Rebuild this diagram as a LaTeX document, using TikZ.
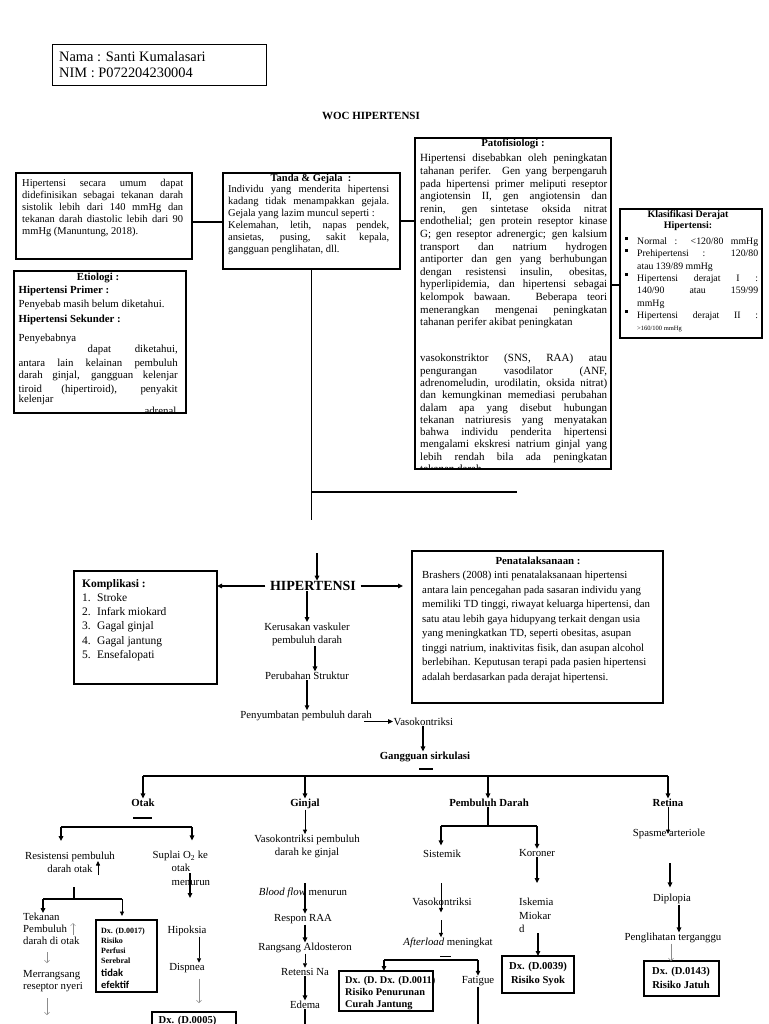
\documentclass[tikz,border=0pt]{standalone}
\usepackage{fontspec}
\setmainfont{Liberation Serif}
\newfontfamily\cali{Carlito}
\usetikzlibrary{arrows.meta}
\newcommand{\fz}[2]{\fontsize{#1}{#2}\selectfont}
\newcommand{\J}[2]{\makebox[#1][s]{#2}}
\tikzset{
  box/.style={draw, line width=1.3pt, anchor=north west, inner sep=0pt, outer sep=0pt},
  txt/.style={inner sep=0pt, align=left, anchor=north west},
  lbl/.style={inner sep=0.5pt, font=\fz{10.8}{13}},
  bl/.style={inner sep=0.5pt, font=\bfseries\fz{10.8}{13}},
  ar/.style={line width=1.3pt, -{Triangle[length=5pt,width=4.5pt]}},
  tar/.style={line width=0.8pt, -{Triangle[length=4.5pt,width=4pt]}},
  gar/.style={line width=0.5pt, draw=black!45, -{Straight Barb[length=2.5pt,width=5pt]}},
  ln/.style={line width=1.3pt},
}
\begin{document}
\begin{tikzpicture}[x=1pt,y=-1pt]
\useasboundingbox (0,0) rectangle (768,1024);
\fill[white] (0,0) rectangle (768,1024);

% ---------- header
\node[box, line width=1pt, minimum width=214pt, minimum height=41pt] (namebox) at (52,45) {};
\node[txt, font=\fz{14.4}{16}] (nametxt) at (59,51.6) {Nama : Santi Kumalasari\\NIM : P072204230004};
\node[bl, font=\bfseries\fz{11}{13}, anchor=base] (title) at (371,119.8) {WOC HIPERTENSI};

% ---------- definition
\node[box, minimum width=176pt, minimum height=86pt] (def) at (16,173) {};
\node[txt, font=\fz{10.5}{12}] (deft) at (22,179.2) {\J{161pt}{Hipertensi secara umum dapat}\\
\J{161pt}{didefinisikan sebagai tekanan darah}\\
\J{161pt}{sistolik lebih dari 140 mmHg dan}\\
\J{161pt}{tekanan darah diastolic lebih dari 90}\\
mmHg (Manuntung, 2018).};

% ---------- tanda & gejala
\node[box, minimum width=177pt, minimum height=96pt] (tanda) at (223,173) {};
\node[bl, font=\bfseries\fz{10.5}{13}, anchor=base] (tandat) at (311,182) {Tanda \& Gejala\ \ :};
\node[txt, font=\fz{10.5}{12}] (tandab) at (228,184.6) {\J{161pt}{Individu yang menderita hipertensi}\\
\J{161pt}{kadang tidak menampakkan gejala.}\\
Gejala yang lazim muncul seperti :\\
\J{161pt}{Kelemahan, letih, napas pendek,}\\
\J{161pt}{ansietas, pusing, sakit kepala,}\\
gangguan penglihatan, dll.};

% ---------- etiologi
\node[box, minimum width=172pt, minimum height=142pt] (etio) at (14,271) {};
\begin{scope}
\clip (14,271) rectangle (186,413);
\node[bl, font=\bfseries\fz{10.8}{13}, anchor=base] (etit) at (98,280) {Etiologi :};
\node[bl, font=\bfseries\fz{10.8}{13}, anchor=base west] (e1) at (18,293.6) {Hipertensi Primer :};
\node[lbl, font=\fz{10.8}{13}, anchor=base west] (e2) at (18,307.6) {Penyebab masih belum diketahui.};
\node[bl, font=\bfseries\fz{10.8}{13}, anchor=base west] (e3) at (18,322.6) {Hipertensi Sekunder :};
\node[lbl, font=\fz{10.8}{13}, anchor=base west] (e4) at (18,341.6) {Penyebabnya};
\node[lbl, font=\fz{10.8}{13}, anchor=base west] (e5) at (87,352.6) {\J{90pt}{dapat diketahui,}};
\node[lbl, font=\fz{10.8}{13}, anchor=base west] (e6) at (18,366.6) {\J{159pt}{antara lain kelainan pembuluh}};
\node[lbl, font=\fz{10.8}{13}, anchor=base west] (e7) at (18,378.6) {\J{159pt}{darah ginjal, gangguan kelenjar}};
\node[lbl, font=\fz{10.8}{13}, anchor=base west] (e8) at (18,392) {\J{159pt}{tiroid (hipertiroid), penyakit}};
\node[lbl, font=\fz{10.8}{13}, anchor=base west] (e9) at (18,402.6) {kelenjar};
\node[lbl, font=\fz{10.8}{13}, anchor=base east] (e10) at (177,414) {adrenal};
\end{scope}

% ---------- patofisiologi
\node[box, minimum width=196pt, minimum height=331pt] (pato) at (415,138) {};
\begin{scope}
\clip (415,138) rectangle (611,469);
\node[bl, font=\bfseries\fz{10.8}{13}, anchor=base] (patot) at (513,146.5) {Patofisiologi :};
\node[txt, font=\fz{11}{12.6}] (pf1) at (420,154) {\J{187pt}{Hipertensi disebabkan oleh peningkatan}\\
\J{187pt}{tahanan perifer. Gen yang berpengaruh}\\
\J{187pt}{pada hipertensi primer meliputi reseptor}\\
\J{187pt}{angiotensin II, gen angiotensin dan}\\
\J{187pt}{renin, gen sintetase oksida nitrat}\\
\J{187pt}{endothelial; gen protein reseptor kinase}\\
\J{187pt}{G; gen reseptor adrenergic; gen kalsium}\\
\J{187pt}{transport dan natrium hydrogen}\\
\J{187pt}{antiporter dan gen yang berhubungan}\\
\J{187pt}{dengan resistensi insulin, obesitas,}\\
\J{187pt}{hyperlipidemia, dan hipertensi sebagai}\\
\J{187pt}{kelompok bawaan. Beberapa teori}\\
\J{187pt}{menerangkan mengenai peningkatan}\\
tahanan perifer akibat peningkatan};
\node[txt, font=\fz{11}{12.3}] (pf2) at (420,354) {\J{187pt}{vasokonstriktor (SNS, RAA) atau}\\
\J{187pt}{pengurangan vasodilator (ANF,}\\
\J{187pt}{adrenomeludin, urodilatin, oksida nitrat)}\\
\J{187pt}{dan kemungkinan memediasi perubahan}\\
\J{187pt}{dalam apa yang disebut hubungan}\\
\J{187pt}{tekanan natriuresis yang menyatakan}\\
\J{187pt}{bahwa individu penderita hipertensi}\\
\J{187pt}{mengalami ekskresi natrium ginjal yang}\\
\J{187pt}{lebih rendah bila ada peningkatan}\\
tekanan darah};
\end{scope}

% ---------- klasifikasi
\node[box, minimum width=142pt, minimum height=129pt] (klas) at (620,209) {};
\begin{scope}
\clip (620,209) rectangle (762,338);
\node[bl, align=center, anchor=north, font=\bfseries\fz{10}{11}] (klast) at (688,209.8) {Klasifikasi Derajat\\Hipertensi:};
\end{scope}
\node[txt, font=\fz{9.8}{12.3}] (klasb) at (637,237.5) {\J{121pt}{Normal : <120/80 mmHg}\\
\J{121pt}{Prehipertensi : 120/80}\\
atau 139/89 mmHg\\
\J{121pt}{Hipertensi derajat I :}\\
\J{121pt}{140/90 atau 159/99}\\
mmHg\\
\J{121pt}{Hipertensi derajat II :}\\
{\fz{6.5}{12.3}>160/100 mmHg}};
\foreach \yy in {241,253.3,277.9,314.8} \fill (624.6,\yy-1.5) rectangle +(3,-3);

% ---------- top connectors
\draw[ln] (def.east |- 0,222) -- (tanda.west |- 0,222);
\draw[ln] (tanda.east |- 0,221) -- (pato.west |- 0,221);
\draw[ln] (pato.east |- 0,285) -- (klas.west |- 0,285);
\draw[ln] (tanda.south) -- (tanda.south |- 0,520);
\coordinate (jn) at (517,492);
\draw[ln] (tanda.south |- jn) -- (jn);

% ---------- hipertensi
\node[bl, font=\bfseries\fz{14}{16}, anchor=base] (hip) at (313,590.6) {HIPERTENSI};
\coordinate (hin) at (317,553);
\draw[ar] (hin) -- (hip.north -| hin);

\node[box, minimum width=143pt, minimum height=113pt] (komp) at (74,571) {};
\node[txt, font=\fz{11.5}{14.3}] (kompt) at (82,578.9) {\textbf{Komplikasi :}\\
\makebox[15pt][l]{1.}Stroke\\
\makebox[15pt][l]{2.}Infark miokard\\
\makebox[15pt][l]{3.}Gagal ginjal\\
\makebox[15pt][l]{4.}Gagal jantung\\
\makebox[15pt][l]{5.}Ensefalopati};

\node[box, minimum width=251pt, minimum height=152pt] (pena) at (412,551) {};
\node[bl, anchor=base] (penat) at (538,564.6) {Penatalaksanaan :};
\node[txt, font=\fz{10.8}{14.5}] (penab) at (422,571.1) {Brashers (2008) inti penatalaksanaan hipertensi\\
antara lain pencegahan pada sasaran individu yang\\
memiliki TD tinggi, riwayat keluarga hipertensi, dan\\
satu atau lebih gaya hidupyang terkait dengan usia\\
yang meningkatkan TD, seperti obesitas, asupan\\
tinggi natrium, inaktivitas fisik, dan asupan alcohol\\
berlebihan. Keputusan terapi pada pasien hipertensi\\
adalah berdasarkan pada derajat hipertensi.};

\draw[ar, shorten <=4pt] (hip.west) -- (komp.east |- hip.west);
\draw[ar, shorten <=4pt, shorten >=9pt] (hip.east) -- (pena.west |- hip.east);

% ---------- main chain
\node[lbl, align=center, anchor=north] (keru) at (307,622.1) {Kerusakan vaskuler\\pembuluh darah};
\draw[ar] (hip.south -| 307,0) -- (keru.north -| 307,0);
\node[lbl, anchor=base] (perub) at (307,679.6) {Perubahan Struktur};
\draw[ar] (keru.south -| 315,0) -- (perub.north -| 315,0);
\node[lbl, anchor=base] (peny) at (306,718.5) {Penyumbatan pembuluh darah};
\draw[ar] (perub.south -| 307,0) -- (peny.north -| 307,0);
\node[lbl, anchor=base west] (vaso) at (393,725.6) {Vasokontriksi};
\coordinate (pa) at (364,721.5);
\draw[ar] (pa) -- (vaso.west |- pa);
\node[bl, anchor=base] (gang) at (425,759.6) {Gangguan sirkulasi};
\draw[ar] (vaso.south -| 423,0) -- (gang.north -| 423,0);
\draw[ln] (419,769) -- (433,769);

\coordinate (hl) at (143,776);
\coordinate (hr) at (668,776);
\draw[ln] (hl) -- (hr);
\node[bl, anchor=base] (otak) at (143,806.6) {Otak};
\node[bl, anchor=base] (ginjal) at (305,806.6) {Ginjal};
\node[bl, anchor=base] (pd) at (489,806.6) {Pembuluh Darah};
\node[bl, anchor=base] (retina) at (668,806.6) {Retina};
\draw[ar] (hl) -- (otak.north);
\draw[ar] (ginjal.north |- hl) -- (ginjal.north);
\draw[ar] (488,776) -- (pd.north -| 488,0);
\draw[ar] (hr) -- (retina.north);

% ---------- otak branch
\draw[ln] (133,818) -- (152,818);
\coordinate (ol) at (61,827);
\coordinate (or) at (192,827);
\draw[ln] (ol) -- (or);
\node[lbl, align=center, anchor=north] (res) at (70,851.1) {Resistensi pembuluh\\darah otak};
\draw[ar, shorten >=10pt] (ol) -- (res.north -| ol);
\draw[tar] (98,875) -- (98,861);
\node[lbl, anchor=base west] (sup1) at (152,858.6) {Suplai O\textsubscript{2} ke};
\node[lbl, anchor=base west] (sup2) at (171,871.6) {otak};
\node[lbl, anchor=base west] (sup3) at (171,885.6) {menurun};
\draw[ar, shorten >=10pt] (or) -- (sup1.north -| or);
\draw[ar] (190,873) -- (190,898);

\draw[ln] (74,887) -- (74,899);
\draw[ln] (43,899) -- (122,899);
\node[txt, font=\fz{10.8}{12}] (tek) at (23,913.1) {Tekanan\\Pembuluh\\darah di otak};
\draw[ar] (43,899) -- (tek.north -| 43,0);
\draw[gar] (73,935) -- (73,923);
\node[box, minimum width=61pt, minimum height=72pt] (d17) at (96,920) {};
\draw[tar, shorten >=4pt] (122,899) -- (d17.north -| 122,0);
\node[txt, font=\bfseries\fz{8}{10}] (d17a) at (101,928.1) {Dx. (D.0017)\\Risiko\\Perfusi\\Serebral};
\node[txt, font=\cali\bfseries\fz{10.5}{12}] (d17b) at (101,969.2) {tidak\\efektif};
\draw[gar] (47,952) -- (47,963);
\node[txt, font=\fz{10.8}{12}] (mer) at (23,970.1) {Merrangsang\\reseptor nyeri};
\draw[gar] (47,998) -- (47,1015);

\node[lbl, anchor=base] (hipo) at (187,933.6) {Hipoksia};
\node[lbl, anchor=base] (disp) at (187,970.6) {Dispnea};
\draw[tar] (hipo.south -| 199,0) -- (disp.north -| 199,0);
\node[box, minimum width=84pt, minimum height=30pt] (d05) at (152,1012) {};
\draw[gar, shorten <=5pt, shorten >=9pt] (disp.south -| 199,0) -- (d05.north -| 199,0);
\node[lbl, font=\bfseries\fz{10.6}{12}, anchor=base west] (d05t) at (158,1023.6) {Dx. (D.0005)};

% ---------- ginjal branch
\node[lbl, align=center, anchor=north] (vk) at (307,834.1) {Vasokontriksi pembuluh\\darah ke ginjal};
\draw[tar] (ginjal.south -| 305,0) -- (vk.north -| 305,0);
\node[lbl, anchor=base] (bf) at (303,895.6) {\textit{Blood flow} menurun};
\node[lbl, anchor=base] (rraa) at (303,921.6) {Respon RAA};
\coordinate (bf0) at (305,883);
\draw[ar] (bf0) -- (rraa.north -| bf0);
\node[lbl, anchor=base] (rald) at (305,950.6) {Rangsang Aldosteron};
\draw[ar] (rraa.south -| 305,0) -- (rald.north -| 305,0);
\node[lbl, anchor=base] (retna) at (305,975.6) {Retensi Na};
\draw[tar] (rald.south -| 305,0) -- (retna.north -| 305,0);
\node[lbl, anchor=base] (edema) at (305,1008.6) {Edema};
\draw[ar] (retna.south -| 305,0) -- (edema.north -| 305,0);
\draw[ln] (edema.south -| 305,0) -- (305,1024);

% ---------- pembuluh darah branch
\coordinate (pdl) at (441,826);
\coordinate (pdr) at (537,826);
\draw[ln] (pd.south -| 488,0) -- (488,826);
\draw[ln] (pdl) -- (pdr);
\node[lbl, anchor=base] (sist) at (442,857.6) {Sistemik};
\node[lbl, anchor=base] (koro) at (537,856.6) {Koroner};
\draw[ar, shorten >=4pt] (pdl) -- (sist.north -| pdl);
\draw[ar] (pdr) -- (koro.north -| pdr);
\node[lbl, anchor=base] (svas) at (442,905.6) {Vasokontriksi};
\coordinate (sv0) at (441,883);
\draw[tar, shorten >=-6pt] (sv0) -- (svas.south -| sv0);
\node[lbl, anchor=base] (afl) at (448,945.6) {\textit{Afterload} meningkat};
\coordinate (sv1) at (441,920);
\draw[tar] (sv1) -- (afl.north -| sv1);
\draw[line width=0.8pt] (440,956) -- (451,956);
\coordinate (al) at (384,960);
\coordinate (afr) at (478,960);
\draw[ln] (al) -- (afr);
\node[box, minimum width=94pt, minimum height=40pt] (d11) at (339,971) {};
\draw[ar] (al) -- (d11.north -| al);
\node[txt, font=\bfseries\fz{10.3}{12}] (d11t) at (345,976.3) {Dx. (D. Dx. (D.0011)\\Risiko Penurunan\\Curah Jantung};
\node[lbl, anchor=base] (fat) at (478,983.6) {Fatigue};
\draw[ar] (afr) -- (fat.north -| afr);
\draw[ln] (fat.south -| 478,0) -- (478,1024);

\node[txt, font=\fz{10.8}{13.5}] (isk) at (519,898.1) {Iskemia\\Miokar\\d};
\draw[ar, shorten >=15pt] (koro.south -| 537,0) -- (isk.north -| 537,0);
\node[box, minimum width=72pt, minimum height=37pt] (d39) at (502,956) {};
\draw[ar] (isk.south -| 538,0) -- (d39.north -| 538,0);
\node[lbl, font=\bfseries\fz{10.6}{14}, align=center, anchor=north] (d39t) at (538,961.2) {Dx. (D.0039)\\Risiko Syok};

% ---------- retina branch
\node[lbl, anchor=base] (spas) at (669,836.6) {Spasme arteriole};
\draw[tar] (retina.south -| 668,0) -- (spas.center -| 668,0);
\node[lbl, anchor=base] (dip) at (672,901.6) {Diplopia};
\coordinate (rt0) at (670,863);
\draw[ar, shorten >=6pt] (rt0) -- (dip.north -| rt0);
\node[lbl, anchor=base] (pgl) at (673,940.6) {Penglihatan terganggu};
\draw[ar] (dip.south -| 679,0) -- (pgl.north -| 679,0);
\node[box, minimum width=75pt, minimum height=35pt] (d143) at (644,961) {};
\draw[gar] (pgl.south -| 671,0) -- (d143.north -| 671,0);
\node[lbl, font=\bfseries\fz{10.6}{14}, align=center, anchor=north] (d143t) at (681,966.2) {Dx. (D.0143)\\Risiko Jatuh};
\end{tikzpicture}
\end{document}
